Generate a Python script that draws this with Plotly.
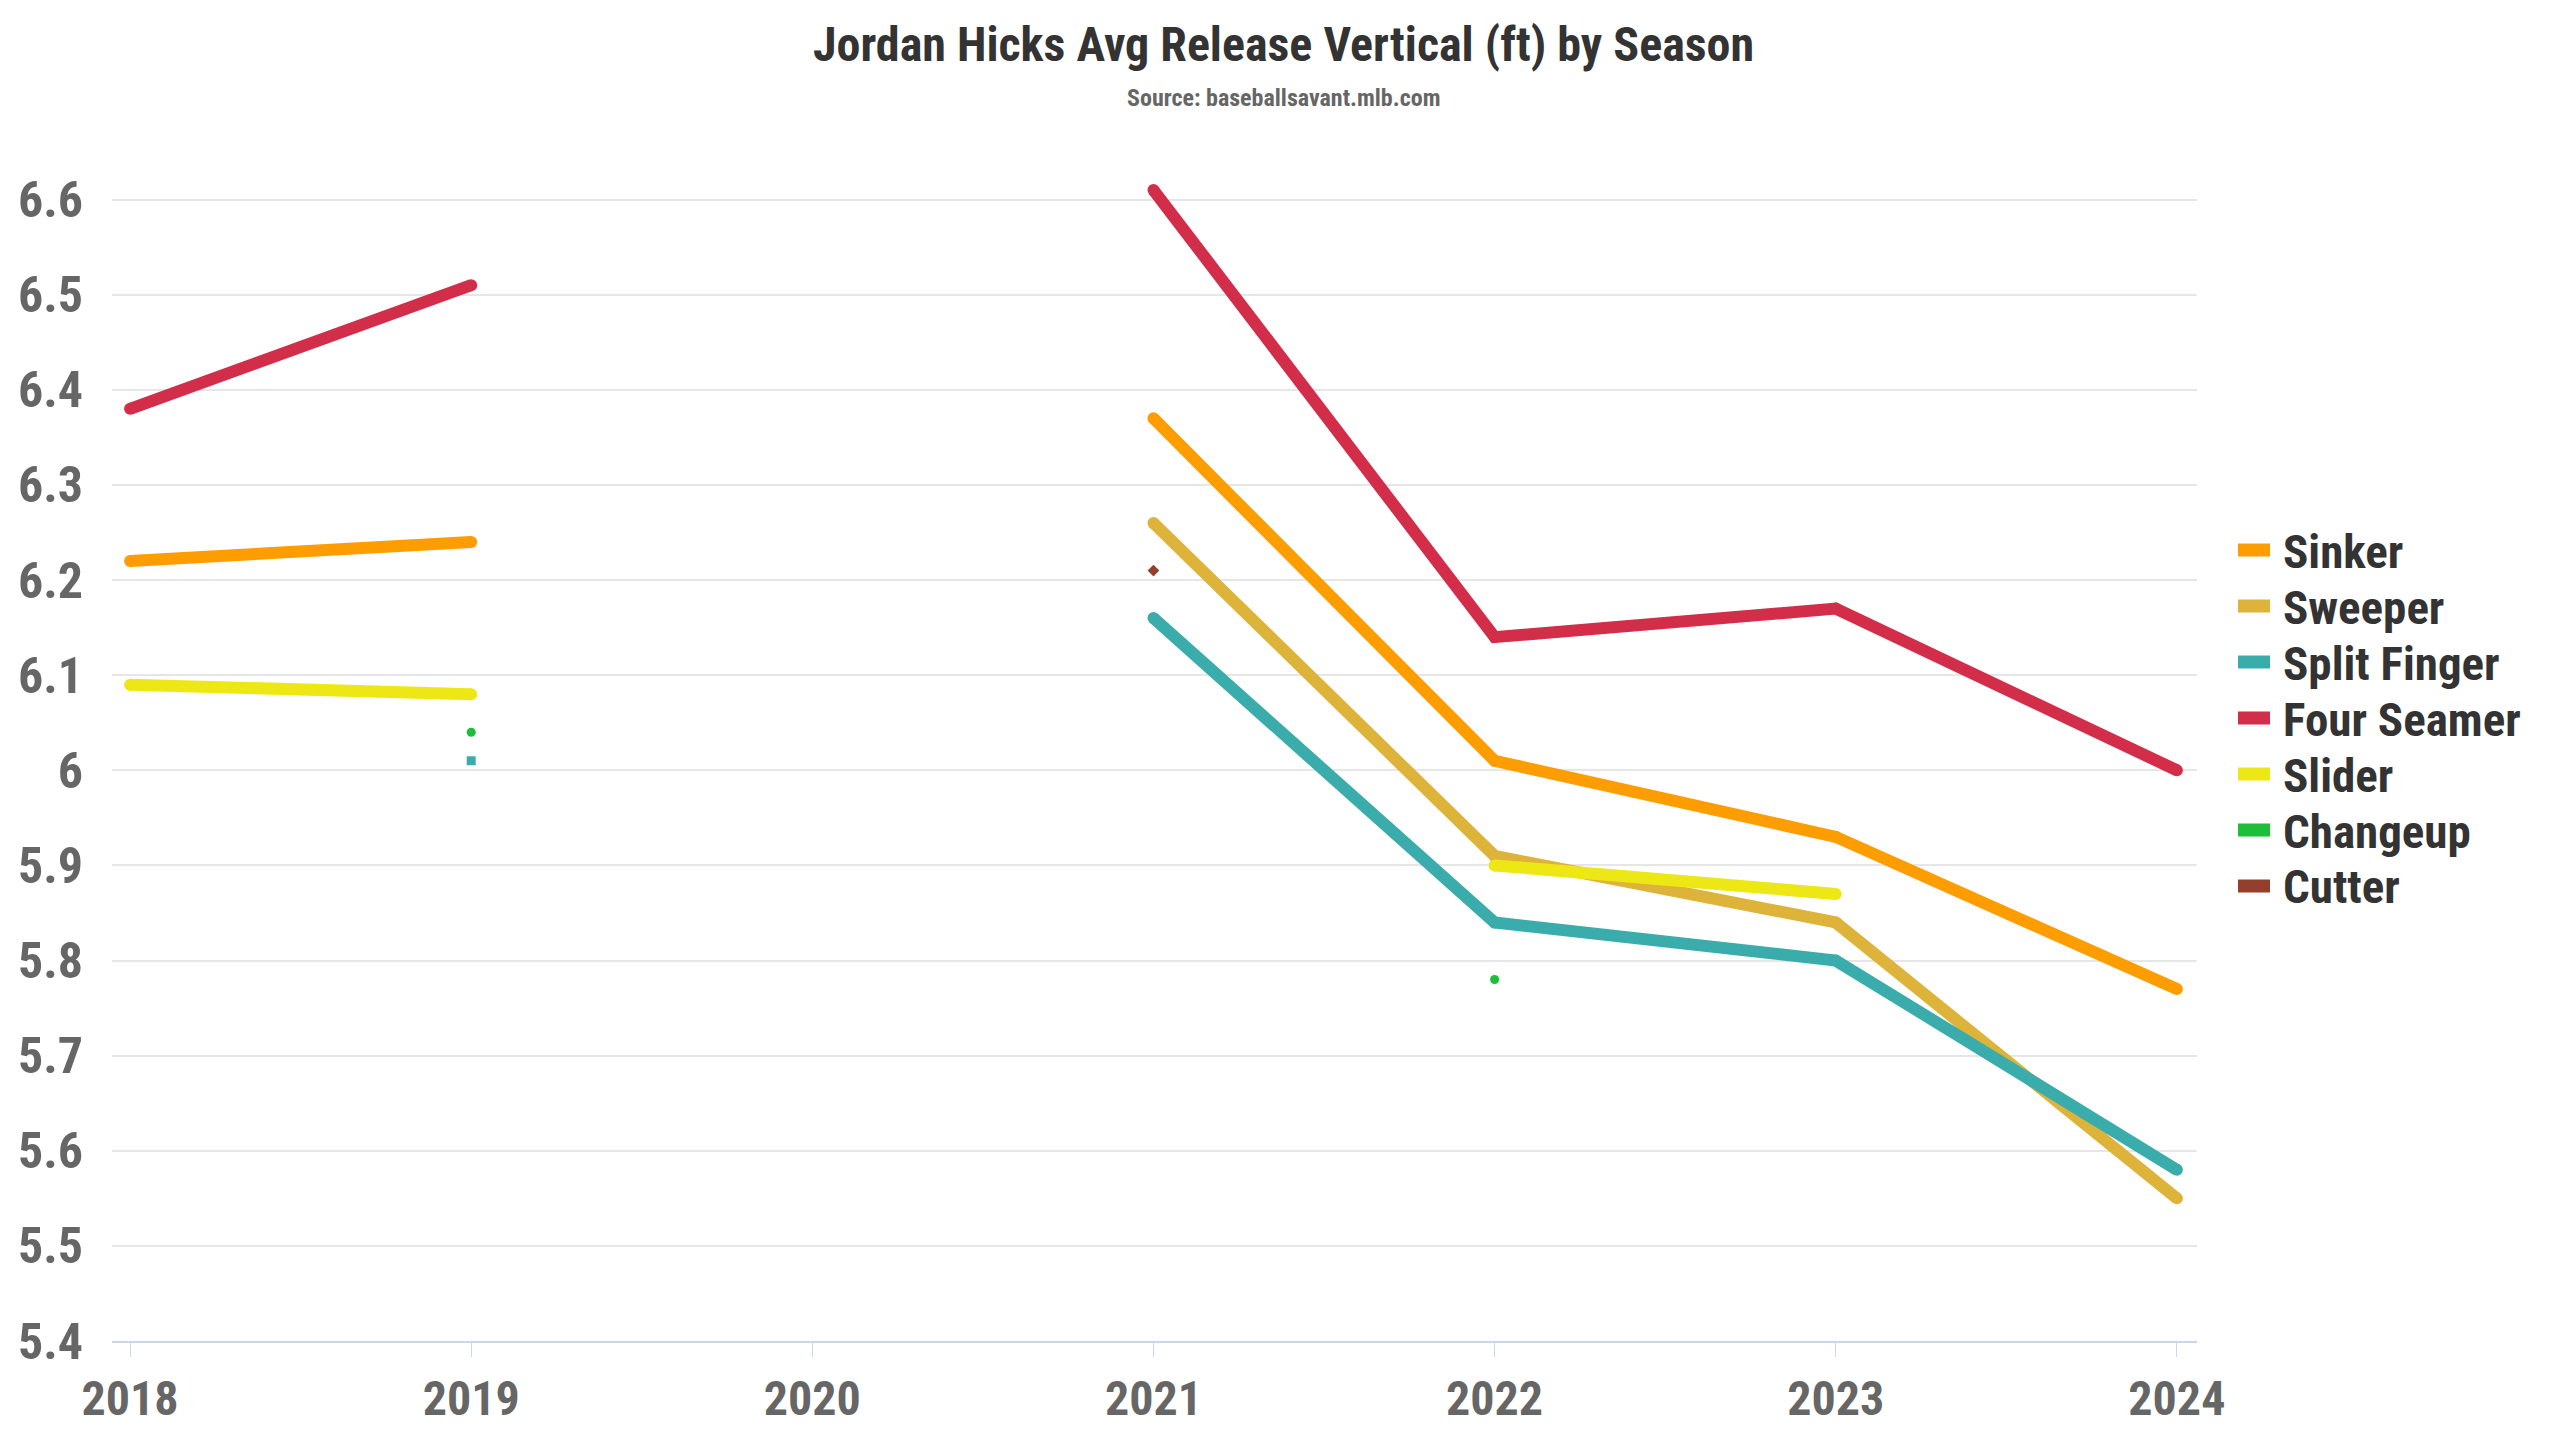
import plotly.graph_objects as go

years = [2018, 2019, 2020, 2021, 2022, 2023, 2024]

sinker = [6.22, 6.24, None, 6.37, 6.01, 5.93, 5.77]
sweeper = [None, None, None, 6.26, 5.91, 5.84, 5.55]
split_finger = [None, 6.01, None, 6.16, 5.84, 5.80, 5.58]
four_seamer = [6.38, 6.51, None, 6.61, 6.14, 6.17, 6.00]
slider = [6.09, 6.08, None, None, 5.90, 5.87, None]
changeup = [None, 6.04, None, None, 5.78, None, None]
cutter = [None, None, None, 6.21, None, None, None]

series_names = ["Sinker", "Sweeper", "Split Finger", "Four Seamer", "Slider", "Changeup", "Cutter"]
series_values = [sinker, sweeper, split_finger, four_seamer, slider, changeup, cutter]
colors = ["#FE9D00", "#DDB33A", "#3BACAC", "#D22D49", "#EEE716", "#1DBE3A", "#933F2C"]
symbols = ["circle", "diamond", "square", "triangle-up", "triangle-down", "circle", "diamond"]

y_ticks = [5.4, 5.5, 5.6, 5.7, 5.8, 5.9, 6.0, 6.1, 6.2, 6.3, 6.4, 6.5, 6.6]
y_ticktext = ["5.4", "5.5", "5.6", "5.7", "5.8", "5.9", "6", "6.1", "6.2", "6.3", "6.4", "6.5", "6.6"]

FONT = "'Roboto Condensed', 'Liberation Sans Narrow', 'Arial Narrow', Roboto, sans-serif"
LW = 12

fig = go.Figure()
for name, vals, col, sym in zip(series_names, series_values, colors, symbols):
    sizes, syms = [], []
    for i, v in enumerate(vals):
        prev_ok = i > 0 and vals[i - 1] is not None
        next_ok = i < len(vals) - 1 and vals[i + 1] is not None
        if v is None:
            sizes.append(0); syms.append("circle")
        elif not prev_ok and not next_ok:
            sizes.append(9); syms.append(sym)
        else:
            sizes.append(LW); syms.append("circle")  # round caps/joins
    fig.add_trace(go.Scatter(
        x=years, y=vals, name=name, mode="lines+markers",
        line=dict(color=col, width=LW),
        marker=dict(symbol=syms, size=sizes, color=col, line=dict(width=0), opacity=1),
        connectgaps=False, showlegend=False,
    ))

plot_left, plot_right, plot_top, plot_bottom = 112, 2197, 152, 1341
W, H = 2560, 1440
pw, ph = plot_right - plot_left, plot_bottom - plot_top

def px(x):
    return (x - plot_left) / pw

def py(y):
    return (plot_bottom - y) / ph

shapes, annotations = [], []
for i, (name, col) in enumerate(zip(series_names, colors)):
    cy = 550 + 56 * i
    shapes.append(dict(type="rect", xref="paper", yref="paper",
                       x0=px(2238), x1=px(2270), y0=py(cy + 6.5), y1=py(cy - 6.5),
                       fillcolor=col, line=dict(width=0), layer="above"))
    annotations.append(dict(text=name, xref="paper", yref="paper", x=px(2281), y=py(cy + 1),
                            xanchor="left", yanchor="middle", showarrow=False,
                            font=dict(size=47, family=FONT, color="#333333", weight="bold")))

annotations += [
    dict(text="Jordan Hicks Avg Release Vertical (ft) by Season", xref="paper", yref="paper",
         x=px(1283), y=py(44), xanchor="center", yanchor="middle", showarrow=False,
         font=dict(size=48, family=FONT, color="#333333", weight="bold")),
    dict(text="Source: baseballsavant.mlb.com", xref="paper", yref="paper",
         x=px(1283), y=py(98), xanchor="center", yanchor="middle", showarrow=False,
         font=dict(size=24, family=FONT, color="#666666", weight="bold")),
]

fig.update_layout(
    width=W, height=H,
    margin=dict(l=plot_left, r=W - plot_right, t=plot_top, b=H - plot_bottom, autoexpand=False),
    paper_bgcolor="white", plot_bgcolor="white",
    font=dict(family=FONT, color="#333333"),
    showlegend=False,
    xaxis=dict(
        range=[2017.947, 2024.059], tickvals=years, ticktext=[str(y) for y in years],
        showgrid=False, zeroline=False,
        showline=True, linecolor="#ccd6eb", linewidth=2,
        ticks="outside", ticklen=14, tickcolor="#ccd6eb", tickwidth=1,
        tickfont=dict(size=48, family=FONT, color="#666666", weight="bold"),
    ),
    yaxis=dict(
        range=[5.4, 6.65], tickvals=y_ticks, ticktext=y_ticktext,
        showgrid=True, gridcolor="#e6e6e6", gridwidth=2, zeroline=False, showline=False,
        ticks="", ticklabelstandoff=28,
        tickfont=dict(size=50, family=FONT, color="#666666", weight="bold"),
    ),
    shapes=shapes,
    annotations=annotations,
)

fig.write_html("out.html")
